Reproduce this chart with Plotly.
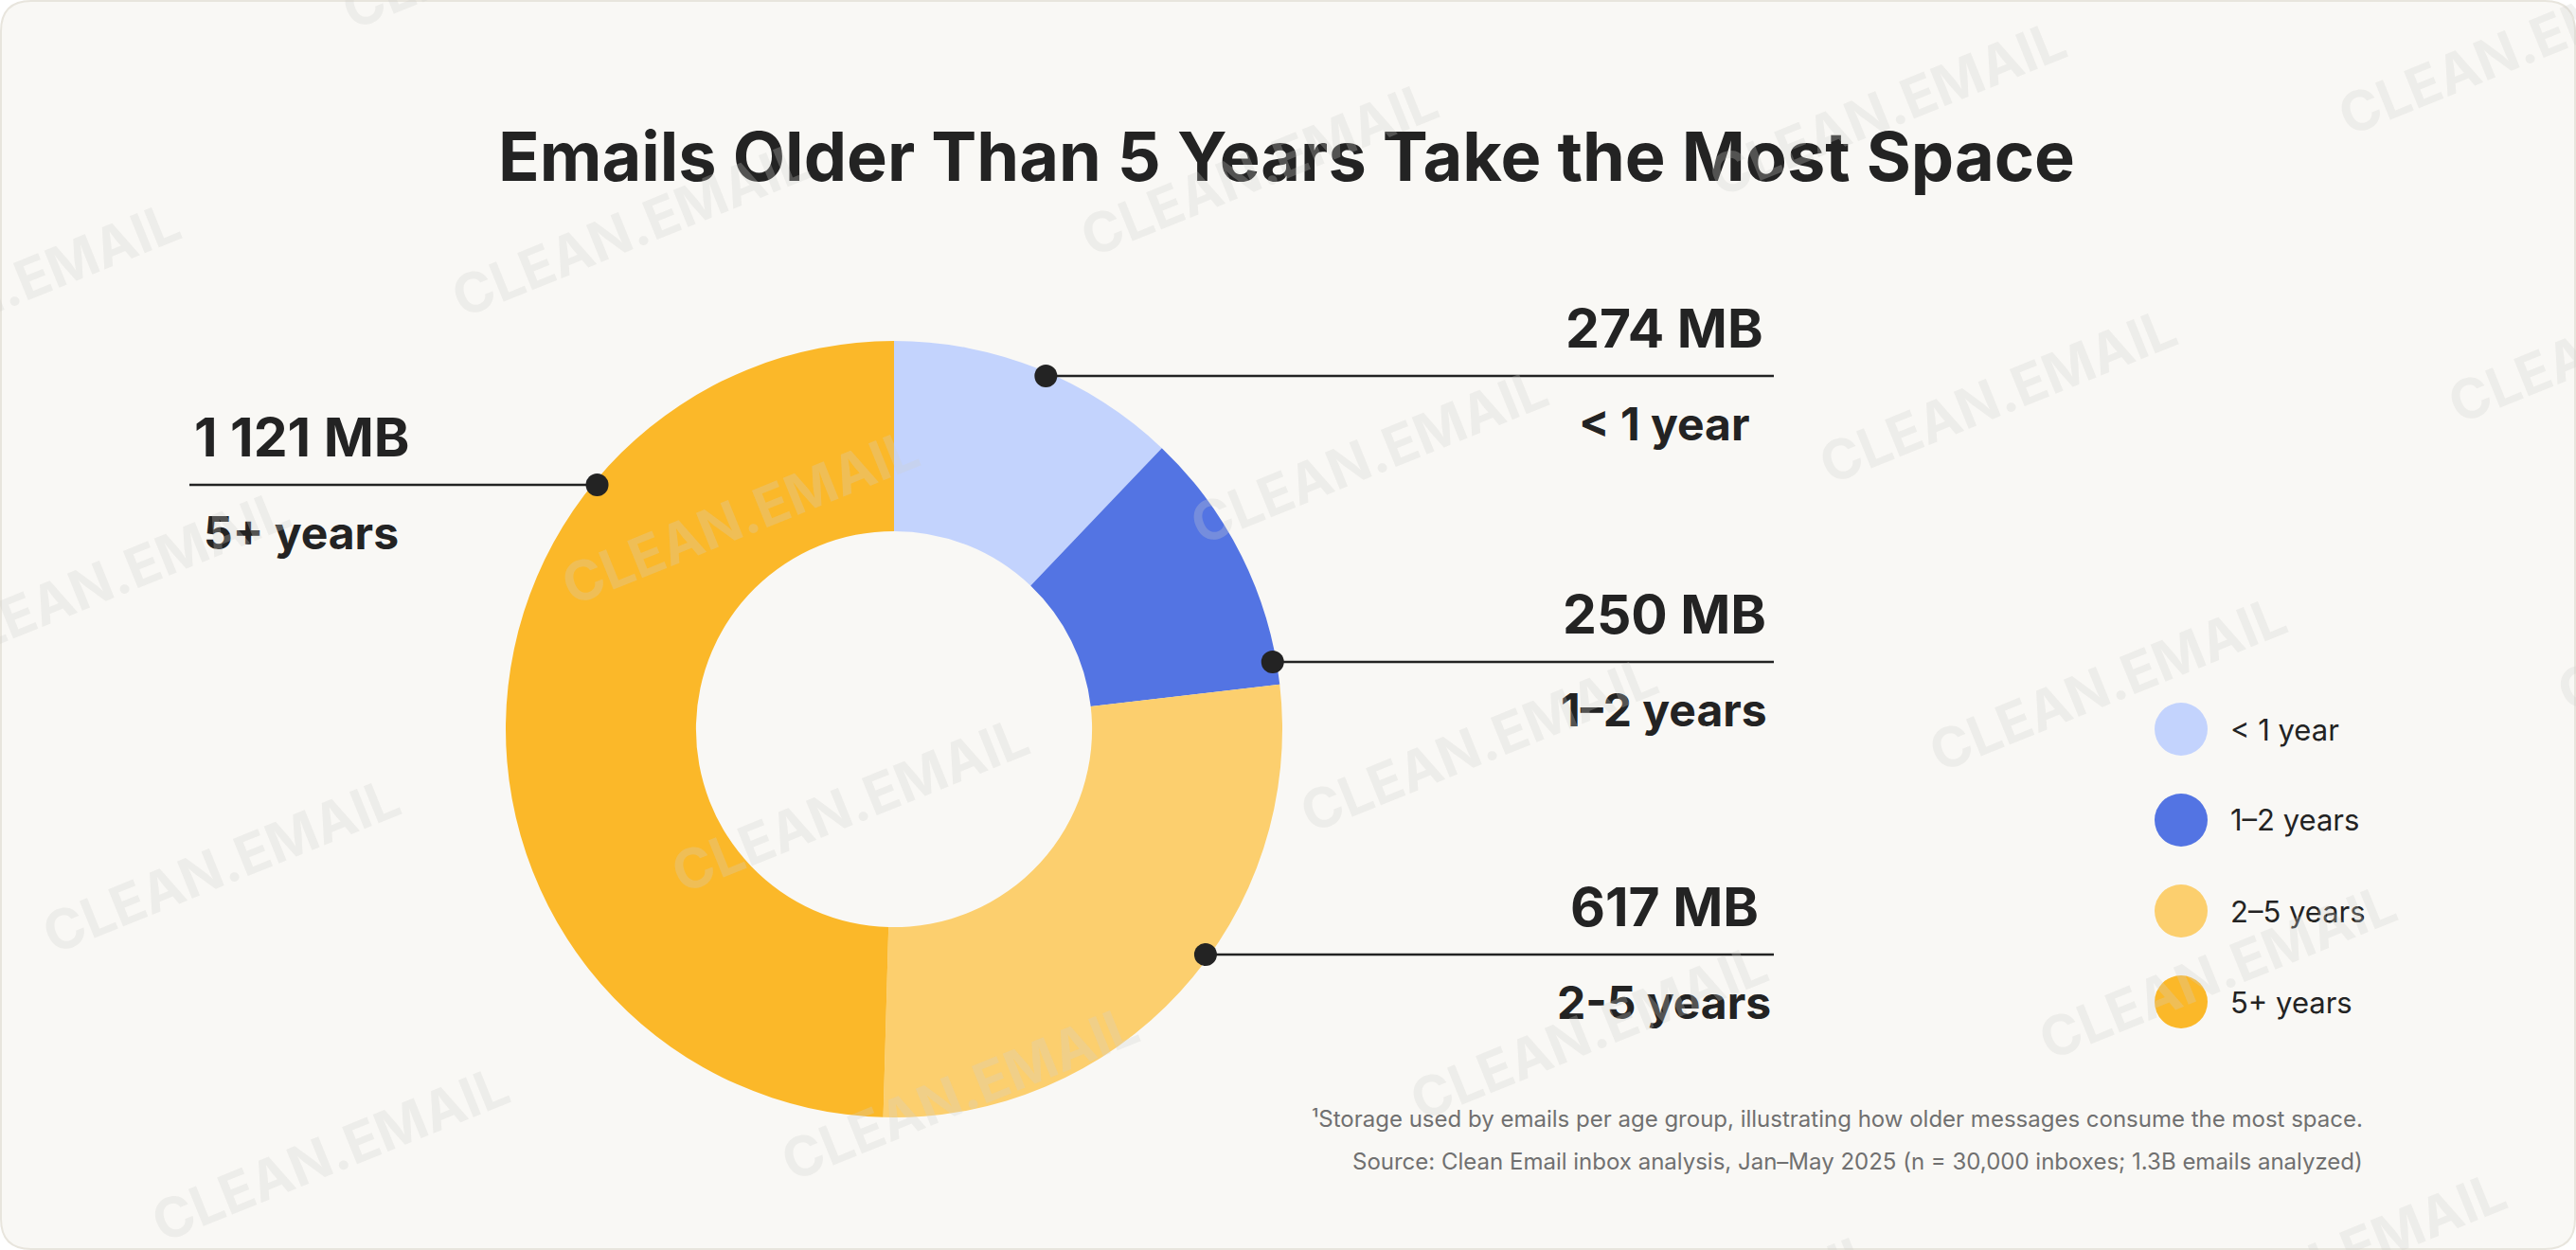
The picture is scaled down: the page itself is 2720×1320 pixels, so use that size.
import math
import plotly.graph_objects as go

# ---------------- data ----------------
categories = ["< 1 year", "1–2 years", "2–5 years", "5+ years"]
storage_mb = [274, 250, 617, 1121]
value_labels = ["274 MB", "250 MB", "617 MB", "1 121 MB"]
callout_names = ["< 1 year", "1–2 years", "2-5 years", "5+ years"]
colors = ["#C3D3FD", "#5374E3", "#FCCF6E", "#FBB829"]

title_text = "Emails Older Than 5 Years Take the Most Space"
footnote_lines = [
    "¹Storage used by emails per age group, illustrating how older messages consume the most space.",
    "Source: Clean Email inbox analysis, Jan–May 2025 (n = 30,000 inboxes; 1.3B emails analyzed)",
]
watermark_text = "CLEAN.EMAIL"

# ---------------- layout constants (pixels) ----------------
W, H = 2720, 1320
CX, CY, R = 944, 770, 410          # donut centre / outer radius
HOLE = 0.51
DOT_R_ON_RING = 406
callout_line_y = [397, 699, 1008, 512]
callout_side = [1, 1, 1, -1]        # 1 = right, -1 = left
RIGHT_END, LEFT_END = 1873, 200
RIGHT_TEXT_X, LEFT_TEXT_X = 1757, 318
LEG_X, LEG_Y0, LEG_DY = 2303, 770, 96

FONT = "Inter, 'Noto Sans', sans-serif"
DARK = "#232323"


def px(x):
    return x / W


def py(y):
    return 1 - y / H


fig = go.Figure()

# donut
fig.add_trace(go.Pie(
    labels=categories, values=storage_mb,
    marker=dict(colors=colors, line=dict(width=0)),
    hole=HOLE, sort=False, direction="clockwise", rotation=0,
    textinfo="none", hoverinfo="label+value", showlegend=False,
    domain=dict(x=[px(CX - R), px(CX + R)], y=[py(CY + R), py(CY - R)]),
))

# custom legend markers
leg_y = [LEG_Y0 + i * LEG_DY for i in range(len(categories))]
fig.add_trace(go.Scatter(
    x=[LEG_X] * len(categories), y=leg_y, mode="markers",
    marker=dict(size=56, color=colors, line=dict(width=0)),
    hoverinfo="skip", showlegend=False,
))

shapes = []
annotations = []

# card background
r = 32
card = (f"M {r+1},1 L {W-r-1},1 Q {W-1},1 {W-1},{r+1} L {W-1},{H-r-1} "
        f"Q {W-1},{H-1} {W-r-1},{H-1} L {r+1},{H-1} Q 1,{H-1} 1,{H-r-1} "
        f"L 1,{r+1} Q 1,1 {r+1},1 Z")
shapes.append(dict(type="path", path=card, xref="x", yref="y",
                   fillcolor="#F9F8F5", line=dict(color="#E8E5DD", width=2),
                   layer="below"))

# callouts
for i in range(len(categories)):
    ly = callout_line_y[i]
    side = callout_side[i]
    dx = math.sqrt(max(DOT_R_ON_RING ** 2 - (ly - CY) ** 2, 0))
    dot_x = CX + side * dx
    end_x = RIGHT_END if side > 0 else LEFT_END
    text_x = RIGHT_TEXT_X if side > 0 else LEFT_TEXT_X
    shapes.append(dict(type="line", xref="x", yref="y", x0=dot_x, x1=end_x,
                       y0=ly, y1=ly, line=dict(color=DARK, width=2.5), layer="above"))
    shapes.append(dict(type="circle", xref="x", yref="y", x0=dot_x - 12, x1=dot_x + 12,
                       y0=ly - 12, y1=ly + 12, fillcolor=DARK, line=dict(width=0),
                       layer="above"))
    annotations.append(dict(text=value_labels[i], x=px(text_x), y=py(ly - 51),
                            xref="paper", yref="paper", xanchor="center", yanchor="middle",
                            showarrow=False,
                            font=dict(family=FONT, size=57, color=DARK, weight=700)))
    annotations.append(dict(text=callout_names[i], x=px(text_x), y=py(ly + 50),
                            xref="paper", yref="paper", xanchor="center", yanchor="middle",
                            showarrow=False,
                            font=dict(family=FONT, size=48, color=DARK, weight=700)))

# legend labels
for i, name in enumerate(categories):
    annotations.append(dict(text=name, x=px(LEG_X + 50), y=py(leg_y[i]),
                            xref="paper", yref="paper", xanchor="left", yanchor="middle",
                            showarrow=False,
                            font=dict(family=FONT, size=31, color=DARK)))

# title
annotations.append(dict(text=title_text, x=px(1358), y=py(164), xref="paper", yref="paper",
                        xanchor="center", yanchor="middle", showarrow=False,
                        font=dict(family=FONT, size=72, color=DARK, weight=700)))

# footnotes
for j, (line, yy) in enumerate(zip(footnote_lines, [1181, 1226])):
    annotations.append(dict(text=line, x=px(2497), y=py(yy), xref="paper", yref="paper",
                            xanchor="right", yanchor="middle", showarrow=False,
                            font=dict(family=FONT, size=24, color="#707070")))

# watermarks (regular diagonal lattice)
WM_O = (781, 546)
WM_U = (664, -64)
WM_V = (116, 304)
for a in range(-3, 6):
    for b in range(-3, 5):
        x = WM_O[0] + a * WM_U[0] + b * WM_V[0]
        y = WM_O[1] + a * WM_U[1] + b * WM_V[1]
        if -260 < x < W + 260 and -90 < y < H + 90:
            annotations.append(dict(text=watermark_text, x=px(x), y=py(y),
                                    xref="paper", yref="paper",
                                    xanchor="center", yanchor="middle", showarrow=False,
                                    textangle=-22,
                                    font=dict(family=FONT, size=58,
                                              color="rgba(210,208,203,0.28)", weight=700)))

fig.update_layout(
    width=W, height=H, margin=dict(l=0, r=0, t=0, b=0, pad=0),
    paper_bgcolor="#FFFFFF", plot_bgcolor="rgba(0,0,0,0)",
    xaxis=dict(range=[0, W], visible=False, fixedrange=True, domain=[0, 1]),
    yaxis=dict(range=[H, 0], visible=False, fixedrange=True, domain=[0, 1]),
    shapes=shapes, annotations=annotations, showlegend=False,
)

fig.write_html("out.html")
